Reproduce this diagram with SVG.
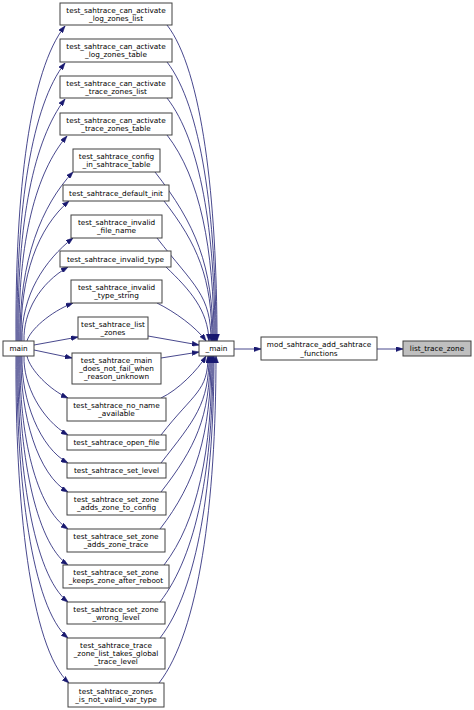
<svg xmlns="http://www.w3.org/2000/svg" width="474" height="710" viewBox="0 0 474 710">
<style>
.n rect{fill:#ffffff;stroke:#404040;stroke-width:1}
.n.cur rect{fill:#bfbfbf}
.n text{font-family:"DejaVu Sans","Liberation Sans",sans-serif;font-size:7.3px;fill:#000;text-anchor:middle}
.e path{fill:none;stroke:#191970;stroke-width:0.8;marker-end:url(#ah)}
</style>
<defs>
<marker id="ah" viewBox="0 0 7 5" refX="7" refY="2.5" markerWidth="7" markerHeight="5" markerUnits="userSpaceOnUse" orient="auto">
<path d="M0,0 L7,2.5 L0,5 z" fill="#191970" stroke="#191970" stroke-width="0.5"/>
</marker>
</defs>
<g id="edges" class="e">
<path d="M16,341 C15,190 30,70 65,26"/>
<path d="M17,341 C16,205 32,105 65,63"/>
<path d="M18,341 C17,220 34,140 65,99"/>
<path d="M19,341 C18,240 36,172 67,136"/>
<path d="M20,341 C19,260 42,205 73,172"/>
<path d="M21,341 C20,275 38,228 69,201"/>
<path d="M22,341 C21,295 45,260 73,238"/>
<path d="M24,341 C23,312 40,283 68,267"/>
<path d="M27,341 C30,330 50,312 73,303"/>
<path d="M34,345 L78,337"/>
<path d="M34,350 L72,358"/>
<path d="M27,356 C30,370 50,390 68,398"/>
<path d="M24,356 C23,385 42,420 68,435"/>
<path d="M22,356 C21,400 40,448 68,463"/>
<path d="M21,356 C20,415 38,475 68,492"/>
<path d="M20,356 C19,435 36,508 68,529"/>
<path d="M19,356 C18,450 35,542 68,565"/>
<path d="M18,356 C17,465 33,575 68,602"/>
<path d="M17,356 C16,480 32,608 68,638"/>
<path d="M16,356 C15,500 30,648 69,683"/>
<path d="M167,25 C202,70 217,199 217,341"/>
<path d="M167,62 C201.3,106.1 216,215.5 216,341"/>
<path d="M167,98 C200.6,141.2 215,231.7 215,341"/>
<path d="M167,135 C199.9,177.3 214,248.3 214,341"/>
<path d="M155,172 C195.6,224.2 213,265 213,341"/>
<path d="M164,201 C197.6,244.2 212,278 212,341"/>
<path d="M157,238 C194.8,286.6 211,294.7 211,341"/>
<path d="M166,267 C190,290 208,310 209,341"/>
<path d="M157,303 C175,312 196,327 206,341"/>
<path d="M148,336 L199,345"/>
<path d="M161,358 L199,352"/>
<path d="M161,398 C178,390 198,370 206,356"/>
<path d="M161,435 C193.9,392.7 208,391.6 208,356"/>
<path d="M161,463 C194.6,419.8 209,404.2 209,356"/>
<path d="M161,492 C195.3,447.9 210,417.2 210,356"/>
<path d="M160,529 C195.7,483.1 211,433.9 211,356"/>
<path d="M164,565 C197.6,521.8 212,450 212,356"/>
<path d="M160,602 C197.1,554.3 213,466.7 213,356"/>
<path d="M160,638 C197.8,589.4 214,482.9 214,356"/>
<path d="M159,683 C198.9,631.7 216,503.2 216,356"/>
<path d="M234,349 L261,349"/>
<path d="M377,349 L403,349"/>
</g>
<g id="main" class="n"><rect x="3" y="341" width="31" height="15"/><text x="18.5" y="351.1">main</text></g>
<g id="_main" class="n"><rect x="199" y="341" width="35" height="15"/><text x="216.5" y="351.1">_main</text></g>
<g id="mod_sahtrace_add_sahtrace_functions" class="n"><rect x="261" y="337" width="116" height="23"/><text x="319" y="347.2">mod_sahtrace_add_sahtrace</text><text x="319" y="355.5">_functions</text></g>
<g id="list_trace_zone" class="n cur"><rect x="403" y="341" width="68" height="15"/><text x="437" y="351.1">list_trace_zone</text></g>
<g id="n1" class="n"><rect x="60" y="3" width="112" height="22"/><text x="116" y="12.5">test_sahtrace_can_activate</text><text x="116" y="20.8">_log_zones_list</text></g>
<g id="n2" class="n"><rect x="60" y="39" width="112" height="23"/><text x="116" y="49">test_sahtrace_can_activate</text><text x="116" y="57.3">_log_zones_table</text></g>
<g id="n3" class="n"><rect x="60" y="76" width="112" height="22"/><text x="116" y="85.5">test_sahtrace_can_activate</text><text x="116" y="93.8">_trace_zones_list</text></g>
<g id="n4" class="n"><rect x="60" y="113" width="112" height="22"/><text x="116" y="122.5">test_sahtrace_can_activate</text><text x="116" y="130.8">_trace_zones_table</text></g>
<g id="n5" class="n"><rect x="73" y="149" width="87" height="23"/><text x="116.5" y="159">test_sahtrace_config</text><text x="116.5" y="167.3">_in_sahtrace_table</text></g>
<g id="n6" class="n"><rect x="63" y="185" width="106" height="16"/><text x="116" y="195.6">test_sahtrace_default_init</text></g>
<g id="n7" class="n"><rect x="71" y="215" width="91" height="23"/><text x="116.5" y="225">test_sahtrace_invalid</text><text x="116.5" y="233.3">_file_name</text></g>
<g id="n8" class="n"><rect x="60" y="251" width="111" height="16"/><text x="115.5" y="261.6">test_sahtrace_invalid_type</text></g>
<g id="n9" class="n"><rect x="71" y="280" width="91" height="23"/><text x="116.5" y="290">test_sahtrace_invalid</text><text x="116.5" y="298.3">_type_string</text></g>
<g id="n10" class="n"><rect x="78" y="317" width="70" height="22"/><text x="113" y="326.5">test_sahtrace_list</text><text x="113" y="334.8">_zones</text></g>
<g id="n11" class="n"><rect x="72" y="353" width="89" height="31"/><text x="116.5" y="362.8">test_sahtrace_main</text><text x="116.5" y="371.1">_does_not_fail_when</text><text x="116.5" y="379.4">_reason_unknown</text></g>
<g id="n12" class="n"><rect x="67" y="398" width="99" height="23"/><text x="116.5" y="408">test_sahtrace_no_name</text><text x="116.5" y="416.3">_available</text></g>
<g id="n13" class="n"><rect x="67" y="435" width="99" height="15"/><text x="116.5" y="445.1">test_sahtrace_open_file</text></g>
<g id="n14" class="n"><rect x="67" y="463" width="99" height="15"/><text x="116.5" y="473.1">test_sahtrace_set_level</text></g>
<g id="n15" class="n"><rect x="67" y="492" width="99" height="23"/><text x="116.5" y="502">test_sahtrace_set_zone</text><text x="116.5" y="510.3">_adds_zone_to_config</text></g>
<g id="n16" class="n"><rect x="67" y="529" width="98" height="23"/><text x="116" y="539">test_sahtrace_set_zone</text><text x="116" y="547.3">_adds_zone_trace</text></g>
<g id="n17" class="n"><rect x="63" y="565" width="106" height="23"/><text x="116" y="575">test_sahtrace_set_zone</text><text x="116" y="583.3">_keeps_zone_after_reboot</text></g>
<g id="n18" class="n"><rect x="67" y="602" width="98" height="22"/><text x="116" y="611.5">test_sahtrace_set_zone</text><text x="116" y="619.8">_wrong_level</text></g>
<g id="n19" class="n"><rect x="67" y="638" width="98" height="31"/><text x="116" y="647.8">test_sahtrace_trace</text><text x="116" y="656.1">_zone_list_takes_global</text><text x="116" y="664.4">_trace_level</text></g>
<g id="n20" class="n"><rect x="68" y="683" width="96" height="24"/><text x="116" y="693.5">test_sahtrace_zones</text><text x="116" y="701.8">_is_not_valid_var_type</text></g>
</svg>
